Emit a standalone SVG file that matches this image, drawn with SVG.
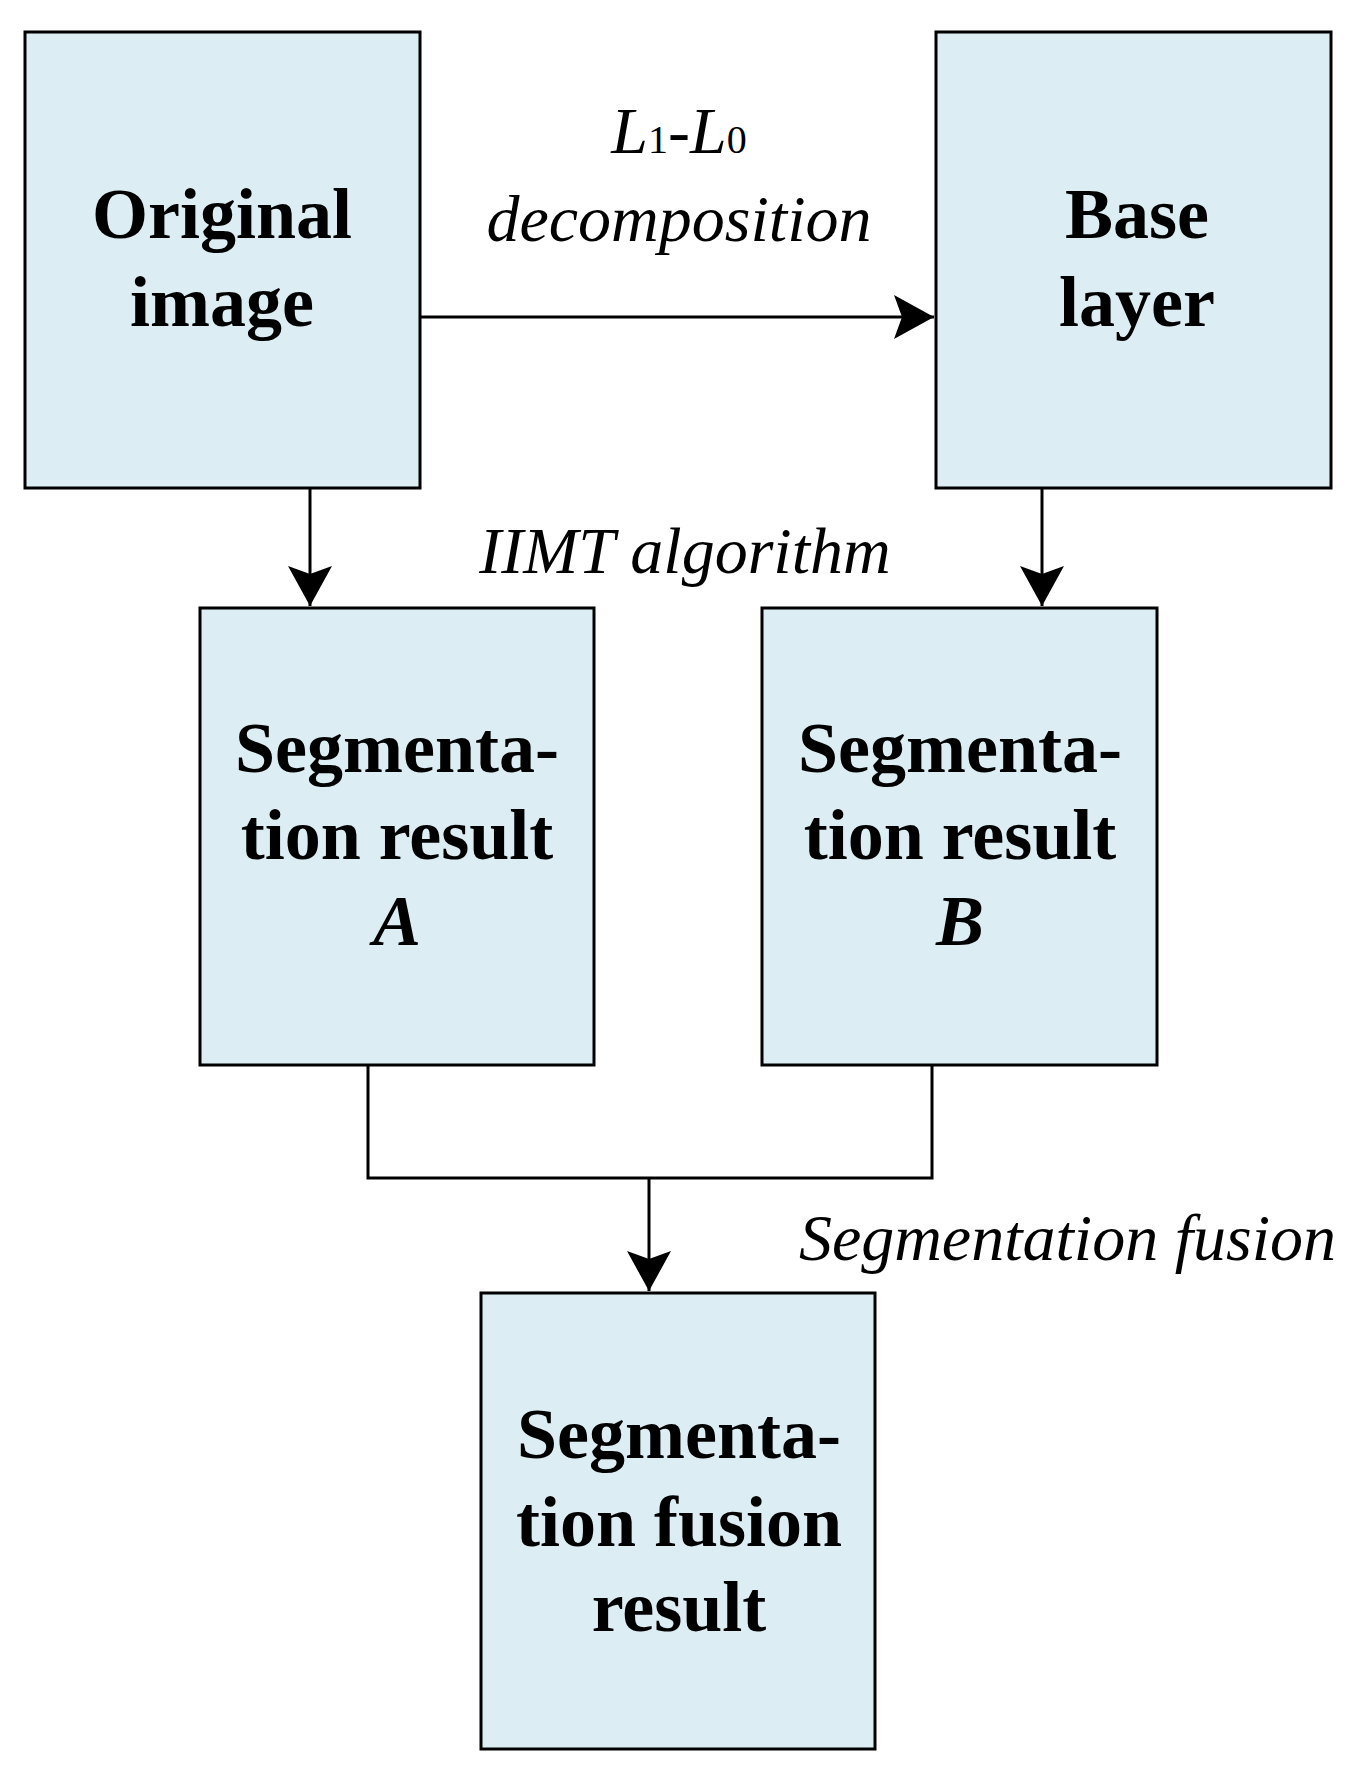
<svg xmlns="http://www.w3.org/2000/svg" width="1362" height="1785" viewBox="0 0 1362 1785">
<style>
.box{fill:#dcedf3;stroke:#000;stroke-width:3}
.t{font-family:"Liberation Serif",serif;font-weight:bold;font-size:72px;text-anchor:middle}
.l{font-family:"Liberation Serif",serif;font-style:italic;font-size:66px}
.c{fill:none;stroke:#000;stroke-width:3}
</style>
<defs>
<marker id="b" viewBox="0 0 40 44" refX="40" refY="22" markerWidth="40" markerHeight="44" orient="auto" markerUnits="userSpaceOnUse"><path d="M0,0 L40,22 L0,44 L8,22z"/></marker></defs>
<rect width="1362" height="1785" fill="#fff"/>
<g id="connectors">
<path class="c" d="M420,317 H934" marker-end="url(#b)"/>
<path class="c" d="M310,488 V606" marker-end="url(#b)"/>
<path class="c" d="M1042,488 V606" marker-end="url(#b)"/>
<path class="c" d="M368,1065 V1178 H932 V1065"/>
<path class="c" d="M649,1178 V1291" marker-end="url(#b)"/>
</g>
<g id="original"><rect class="box" x="25" y="32" width="395" height="456"/><text class="t" x="222" y="238">Original</text><text class="t" x="222" y="326">image</text></g>
<g id="base"><rect class="box" x="936" y="32" width="395" height="456"/><text class="t" x="1137" y="238">Base</text><text class="t" x="1137" y="326">layer</text></g>
<g id="segA"><rect class="box" x="200" y="608" width="394" height="457"/><text class="t" x="397" y="772">Segmenta-</text><text class="t" x="397" y="859">tion result</text><text class="t" x="397" y="945" font-style="italic">A</text></g>
<g id="segB"><rect class="box" x="762" y="608" width="395" height="457"/><text class="t" x="960" y="772">Segmenta-</text><text class="t" x="960" y="859">tion result</text><text class="t" x="960" y="945" font-style="italic">B</text></g>
<g id="fusion"><rect class="box" x="481" y="1293" width="394" height="456"/><text class="t" x="679" y="1458">Segmenta-</text><text class="t" x="679" y="1546">tion fusion</text><text class="t" x="679" y="1631">result</text></g>
<g id="labels">
<text class="l" x="679" y="153" text-anchor="middle">L<tspan font-size="40" font-style="normal">1</tspan>-L<tspan font-size="40" font-style="normal">0</tspan></text>
<text class="l" x="679" y="241" text-anchor="middle">decomposition</text>
<text class="l" x="685" y="573" text-anchor="middle">IIMT algorithm</text>
<text class="l" x="1336" y="1260" text-anchor="end">Segmentation fusion</text>
</g>
</svg>
